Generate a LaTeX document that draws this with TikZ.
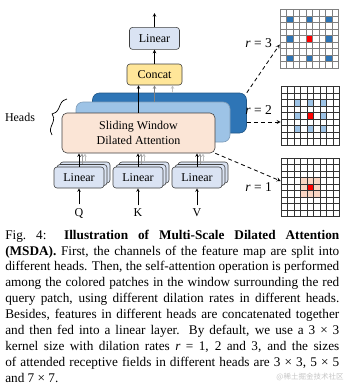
\documentclass[tikz,border=0pt]{standalone}
\usepackage{fontspec}
\setmainfont{Liberation Serif}
\newfontfamily\cjkfont{Noto Sans CJK SC}
\usepackage{xcolor}
\usetikzlibrary{arrows,positioning,decorations.pathreplacing}

\definecolor{linfill}{HTML}{DAE3F3}
\definecolor{catfill}{HTML}{FFE699}
\definecolor{attnfill}{HTML}{FBE5D6}
\definecolor{headlight}{HTML}{9DC3E6}
\definecolor{headdark}{HTML}{2E75B6}
\definecolor{edgegray}{HTML}{404040}
\definecolor{patchred}{HTML}{FF0000}
\definecolor{patchpeach}{HTML}{F9D5C3}

\begin{document}
\begin{tikzpicture}[
    x=1pt, y=-1pt,
    > = stealth, % arrow head style
    every node/.style={font=\fontsize{12}{14.3}\selectfont},
    box/.style={draw=edgegray, rounded corners=3pt, minimum width=50pt, minimum height=21pt, inner sep=0pt},
    layer/.style={rounded corners=7pt, minimum width=154pt, minimum height=40pt, inner sep=0pt},
    dasharrow/.style={->, thick, dash pattern=on 4pt off 3pt},
    semithick % line style
]
\useasboundingbox (0,0) rectangle (354,391);

% Heads
\node[layer, fill=headdark, draw=headdark!75!black] (headback) at (169.5,113) {};
\node[layer, fill=headlight, draw=headlight!80!black] (headmid) at (153,122) {};
\node[box, fill=attnfill, rounded corners=5pt, minimum width=153pt, minimum height=40pt, align=center] (swda) at (138.5,133) {Sliding Window\\Dilated Attention};
\node (heads) at (20,117) {Heads};
\draw[line width=0.7pt, decorate, decoration={brace, amplitude=8pt}] (52,135) -- (67,99);

% Output
\node[box, fill=catfill, minimum width=55pt] (concat) at (154.5,74.5) {Concat};
\node[box, fill=linfill, minimum height=22pt] (linout) [above=14pt of concat] {Linear};
\coordinate[above=14pt of linout] (out);

% Input projections
\foreach \nm/\px/\lab in {q/79/Q, k/138/K, v/197/V} {
    \node[box, fill=linfill] (lin\nm c) at (\px+6,172.5) {};
    \node[box, fill=linfill] (lin\nm b) at (\px+3,175) {};
    \node[box, fill=linfill] (lin\nm) at (\px,177.5) {Linear};
    \node (in\nm) at (\px,213) {\lab};
    \draw[->] (in\nm) -- (lin\nm);
    \draw[->, gray!50] (lin\nm c.north) -- (lin\nm c.north |- swda.south);
    \draw[->, gray!80] (lin\nm b.north) -- (lin\nm b.north |- swda.south);
    \draw[->] (lin\nm) -- (lin\nm |- swda.south);
}

% Edges
\draw[->] (swda.north) -- (swda.north |- concat.south);
\draw[->, gray] (headmid.north -| concat.south) -- (concat.south);
\draw[->, gray!50] ([xshift=18pt]concat.south |- headback.north) -- ([xshift=18pt]concat.south);
\draw[->] (concat) -- (linout);
\draw[->] (linout) -- (out);

% Dilated patches
\foreach \g/\gx/\gy/\lc/\cc/\idx in {3/280/9.5/gray/headdark/{1,4,7}, 2/281/86.5/black!80/headlight/{2,4,6}, 1/281/158/black!80/patchpeach/{3,4,5}} {
    \begin{scope}[shift={(\gx,\gy)}]
        \foreach \i in \idx \foreach \j in \idx \fill[\cc] (\i*6.5,\j*6.5) rectangle +(6.5,6.5);
        \fill[patchred] (26,26) rectangle +(6.5,6.5);
        \foreach \k in {0,...,9} {
            \draw[\lc, thin] (\k*6.5,0) -- (\k*6.5,58.5);
            \draw[\lc, thin] (0,\k*6.5) -- (58.5,\k*6.5);
        }
    \end{scope}
    \node[minimum size=58.5pt, inner sep=0pt] (grid\g) at (\gx+29.25,\gy+29.25) {};
}
\coordinate (r2) at (grid2.west |- 0,122);
\coordinate (r1) at (grid1.west |- 0,181);
\node[font=\fontsize{13.5}{15}\selectfont, anchor=east] (lab3) at (275.5,43) {\textit{r} = 3};
\node[font=\fontsize{13.5}{15}\selectfont, anchor=east] (lab2) at (275.5,110) {\textit{r} = 2};
\node[font=\fontsize{13.5}{15}\selectfont, anchor=east] (lab1) at (275.5,187) {\textit{r} = 1};
\draw[dasharrow] (headback.north east) -- (grid3.191);
\draw[dasharrow] (headback.east |- r2) -- (r2);
\draw[dasharrow] (swda.south east) -- (r1);

% Caption
\node[anchor=north west, inner sep=0pt, text width=334pt, align=justify, font=\fontsize{13.25}{15.9}\selectfont] (caption) at (5,229.5) {\hyphenpenalty=10000 \tolerance=9999
Fig.~4: \textbf{Illustration of Multi-Scale Dilated Attention}\linebreak
\textbf{(MSDA).} First, the channels of the feature map are split into\linebreak
different heads. Then, the self-attention operation is performed\linebreak
among the colored patches in the window surrounding the red\linebreak
query patch, using different dilation rates in different heads.\linebreak
Besides, features in different heads are concatenated together\linebreak
and then fed into a linear layer. By default, we use a 3~×~3\linebreak
kernel size with dilation rates \textit{r} = 1, 2 and 3, and the sizes\linebreak
of attended receptive fields in different heads are 3~×~3, 5~×~5\linebreak
and 7~×~7.};
\node[font=\cjkfont\fontsize{7.5}{8}\selectfont, text=gray!45] (mark) at (310,377) {@稀土掘金技术社区};

\end{tikzpicture}
\end{document}
